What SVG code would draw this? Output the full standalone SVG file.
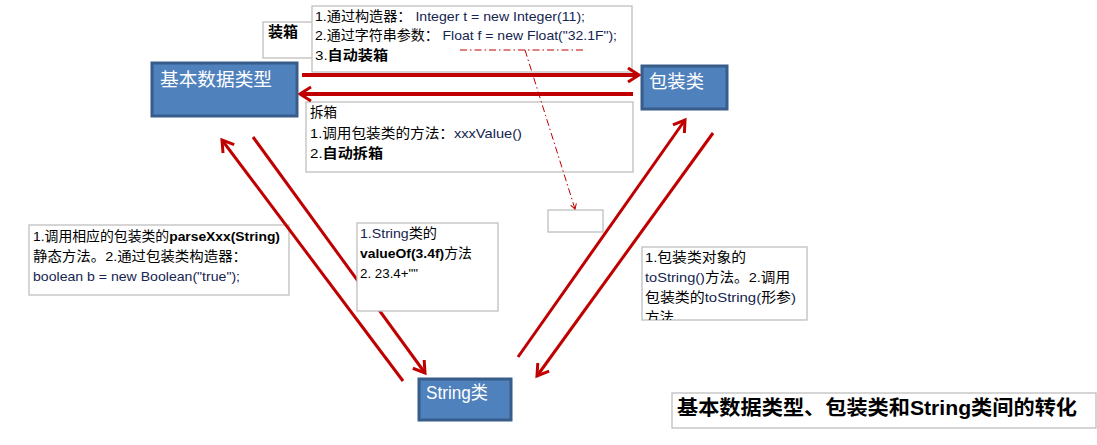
<svg xmlns="http://www.w3.org/2000/svg" width="1097" height="445" viewBox="0 0 1097 445">
<style>
text{font-family:"Liberation Sans","Noto Sans CJK SC",sans-serif;fill:#000}
.n rect{fill:#4F81BD;stroke:#385D8A;stroke-width:3}
.n text{fill:#fff;font-size:18px}
.tb{fill:#fff;stroke:#BFBFBF;stroke-width:1.3}
.t{font-size:13.5px}
.l{fill:#14244f}
.b{font-weight:bold}
.arr{stroke:#C00000;stroke-width:3;fill:none;marker-end:url(#ah)}
.dd{stroke:#C00000;stroke-width:1;fill:none;stroke-dasharray:7,3,1.5,3}
</style>
<defs>
<marker id="ah" markerUnits="userSpaceOnUse" markerWidth="18" markerHeight="18" refX="14" refY="9" orient="auto">
<path d="M3,2 L14,9 L3,16" fill="none" stroke="#C00000" stroke-width="3"/>
</marker>
<marker id="sh" markerUnits="userSpaceOnUse" markerWidth="8" markerHeight="8" refX="6" refY="4" orient="auto">
<path d="M1,1 L6,4 L1,7" fill="none" stroke="#C00000" stroke-width="1"/>
</marker>
<clipPath id="cr"><rect x="642" y="247" width="165" height="73"/></clipPath>
</defs>

<g id="label-zhuangxiang">
<rect class="tb" x="263" y="22" width="50" height="36"/>
<text class="b" x="268" y="37" font-size="15">装箱</text>
</g>

<g id="label-boxing">
<rect class="tb" x="312" y="6" width="320" height="66"/>
<text class="t" x="315" y="21" textLength="270" lengthAdjust="spacingAndGlyphs">1.通过构造器：<tspan class="l"> Integer t = new Integer(11);</tspan></text>
<text class="t" x="315" y="40" textLength="302" lengthAdjust="spacingAndGlyphs">2.通过字符串参数：<tspan class="l"> Float f = new Float("32.1F");</tspan></text>
<text class="t" x="315" y="60" textLength="73" lengthAdjust="spacingAndGlyphs">3.<tspan class="b">自动装箱</tspan></text>
</g>

<g id="label-unboxing">
<rect class="tb" x="306" y="102" width="327" height="70"/>
<text class="t" x="310" y="117">拆箱</text>
<text class="t" x="310" y="138" textLength="212" lengthAdjust="spacingAndGlyphs">1.调用包装类的方法：<tspan class="l">xxxValue()</tspan></text>
<text class="t" x="310" y="158" textLength="73" lengthAdjust="spacingAndGlyphs">2.<tspan class="b">自动拆箱</tspan></text>
</g>

<g id="label-parse">
<rect class="tb" x="29" y="225" width="260" height="70"/>
<text class="t" x="33" y="241" textLength="247" lengthAdjust="spacingAndGlyphs">1.调用相应的包装类的<tspan class="b">parseXxx(String)</tspan></text>
<text class="t" x="33" y="261" textLength="214" lengthAdjust="spacingAndGlyphs">静态方法。2.通过包装类构造器：</text>
<text class="t l" x="33" y="281" textLength="207" lengthAdjust="spacingAndGlyphs">boolean b = new Boolean("true");</text>
</g>

<g id="label-tostring">
<rect class="tb" x="642" y="247" width="165" height="73"/>
<g clip-path="url(#cr)">
<text class="t" x="645" y="262" textLength="101" lengthAdjust="spacingAndGlyphs">1.包装类对象的</text>
<text class="t" x="645" y="282" textLength="145" lengthAdjust="spacingAndGlyphs"><tspan class="l">toString()</tspan>方法。2.调用</text>
<text class="t" x="645" y="302" textLength="151" lengthAdjust="spacingAndGlyphs">包装类的<tspan class="l">toString(</tspan>形参<tspan class="l">)</tspan></text>
<text class="t" x="645" y="322" textLength="29" lengthAdjust="spacingAndGlyphs">方法</text>
</g>
</g>

<g id="empty-box">
<rect class="tb" x="548" y="210" width="55" height="22"/>
</g>

<g id="connectors">
<line class="arr" x1="302" y1="75" x2="639" y2="75" style="stroke-width:4"/>
<line class="arr" x1="633" y1="94" x2="300" y2="94" style="stroke-width:4"/>
<line class="arr" x1="403" y1="381" x2="222" y2="140"/>
<line class="arr" x1="253" y1="137" x2="425" y2="373"/>
<line class="arr" x1="518" y1="357" x2="685" y2="120"/>
<line class="arr" x1="713" y1="133" x2="537" y2="376"/>
<line class="dd" x1="460" y1="50" x2="583" y2="50"/>
<line class="dd" x1="525" y1="50" x2="575" y2="209" marker-end="url(#sh)"/>
</g>

<g id="label-valueof">
<rect class="tb" x="357" y="223" width="141" height="88"/>
<text class="t" x="360" y="238" textLength="77" lengthAdjust="spacingAndGlyphs"><tspan class="l">1.String</tspan>类的</text>
<text class="t" x="360" y="258" textLength="112" lengthAdjust="spacingAndGlyphs"><tspan class="b">valueOf(3.4f)</tspan>方法</text>
<text class="t" x="360" y="278" textLength="58" lengthAdjust="spacingAndGlyphs">2. 23.4+""</text>
</g>

<g id="node-primitive" class="n">
<rect x="152" y="63" width="145" height="53"/>
<text x="160" y="86" textLength="112" lengthAdjust="spacingAndGlyphs">基本数据类型</text>
</g>

<g id="node-wrapper" class="n">
<rect x="642" y="66" width="85" height="43"/>
<text x="649" y="88" textLength="55" lengthAdjust="spacingAndGlyphs">包装类</text>
</g>

<g id="node-string" class="n">
<rect x="419" y="379" width="92" height="41"/>
<text x="426" y="399" textLength="62" lengthAdjust="spacingAndGlyphs">String类</text>
</g>

<g id="title">
<rect class="tb" x="672" y="393" width="424" height="35"/>
<text class="b" x="677" y="415" font-size="20" textLength="400" lengthAdjust="spacingAndGlyphs">基本数据类型、包装类和String类间的转化</text>
</g>
</svg>
